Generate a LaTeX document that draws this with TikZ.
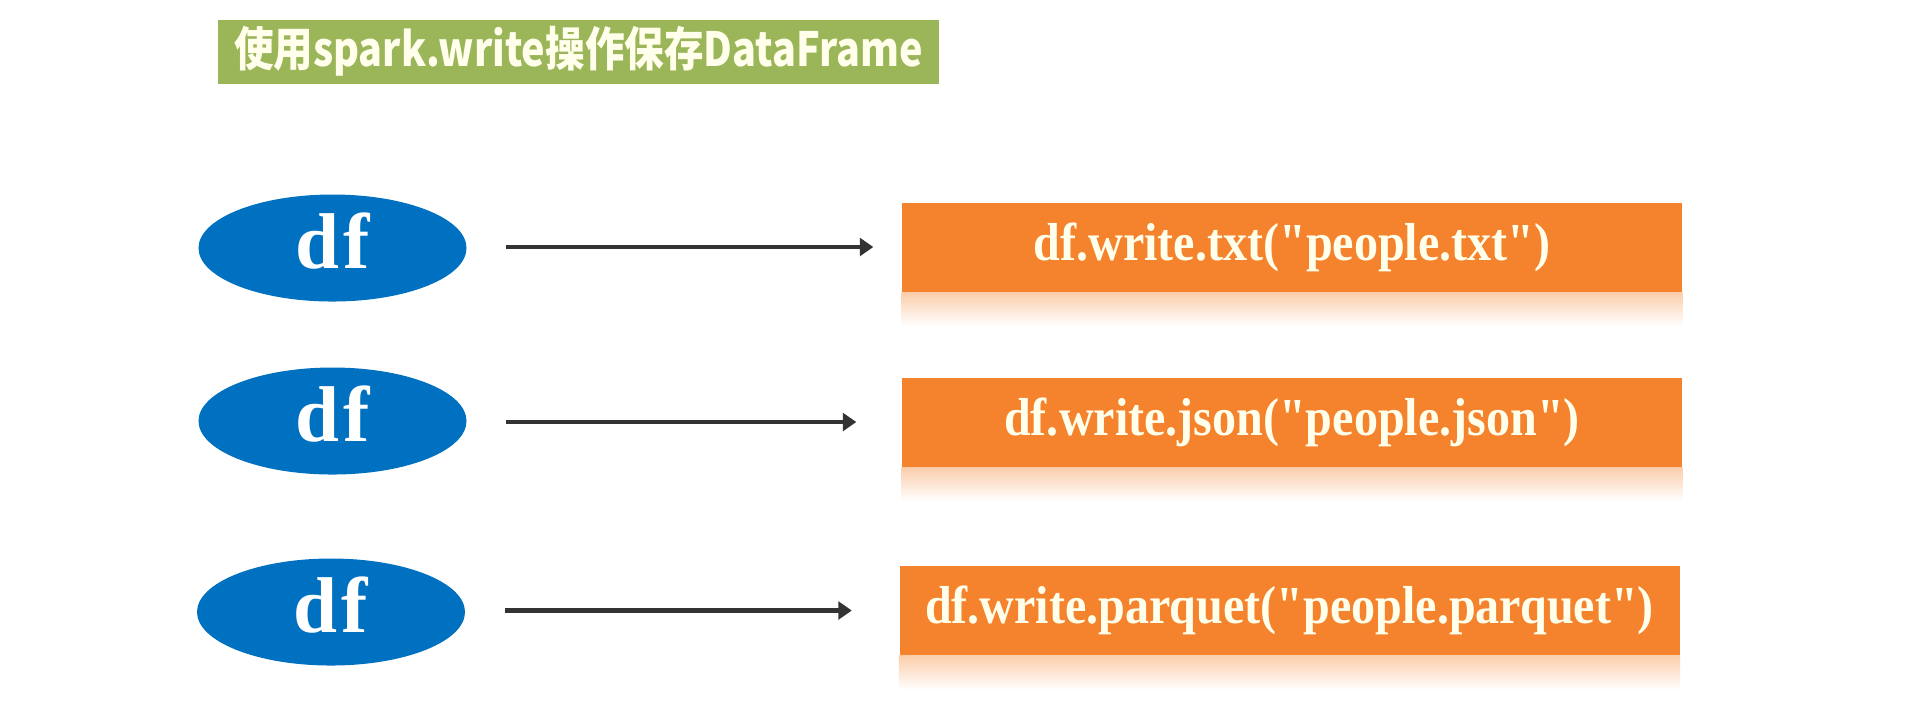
\documentclass[tikz,border=0pt]{standalone}
\usepackage{fontspec}
\newfontfamily\codefont{Liberation Serif}[FakeStretch=0.9]
\newfontfamily\dffont{Liberation Serif}
\newfontfamily\cjkfont{Noto Sans CJK SC}[FakeStretch=0.84]
\usetikzlibrary{arrows.meta,shapes.geometric}

\definecolor{titlegreen}{HTML}{9BB559}
\definecolor{titletext}{HTML}{FFFFEC}
\definecolor{dfblue}{HTML}{0070C0}
\definecolor{outorange}{HTML}{F5832D}
\definecolor{arrowgray}{HTML}{333333}

\begin{document}
\begin{tikzpicture}[
    title/.style={
        fill=titlegreen,
        text=titletext,
        minimum width=7.21cm,
        minimum height=0.64cm,
        inner sep=0pt,
        font=\cjkfont\bfseries\fontsize{13.4}{15}\selectfont,
    },
    dfnode/.style={
        ellipse,
        fill=dfblue,
        text=white,
        minimum width=2.68cm,
        minimum height=1.07cm,
        inner sep=0pt,
        font=\dffont\bfseries\fontsize{22.5}{24}\selectfont,
    },
    outbox/.style={
        fill=outorange,
        text=titletext,
        minimum width=7.8cm,
        minimum height=0.89cm,
        inner sep=0pt,
        font=\codefont\bfseries\fontsize{15.2}{16}\selectfont,
    },
    glow/.style={
        top color=outorange!40,
        bottom color=white,
    },
    flow/.style={
        -{Triangle[length=3.8pt,width=5pt]},
        line width=1.2pt,
        arrowgray,
        shorten <=0.39cm,
    },
]

% Page frame (1920 x 703, 1px = 0.01cm)
\fill[white] (0,0) rectangle (19.2,-7.03);
\useasboundingbox (0,0) rectangle (19.2,-7.03);

% Row heights
\def\yA{-2.47}
\def\yB{-4.21}
\def\yC{-6.12}

% "df" sits a little above the middle of each ellipse
\def\dflabel{\raisebox{0.15cm}{d\kern0.05em f}}

% --- Heading ---
\node[title] (title) at (5.785,-0.515) {使用spark.write操作保存DataFrame};

% --- Row 1: text ---
\node[dfnode] (df1) at (3.325,-2.48) {\dflabel};
\node[outbox] (out1) at (12.92,\yA) {df.write.txt("people.txt")};
\shade[glow] (out1.south west) rectangle ([yshift=-0.34cm]out1.south east);
\draw[flow, shorten >=0.28cm] (df1.east |- out1.west) -- (out1.west);

% --- Row 2: json ---
\node[dfnode] (df2) at (3.325,\yB) {\dflabel};
\node[outbox] (out2) at (12.92,-4.22) {df.write.json("people.json")};
\shade[glow] (out2.south west) rectangle ([yshift=-0.34cm]out2.south east);
\draw[flow, shorten >=0.45cm] (df2.east |- out2.west) -- (out2.west);

% --- Row 3: parquet ---
\node[dfnode] (df3) at (3.31,\yC) {\dflabel};
\node[outbox] (out3) at (12.895,-6.105) {df.write.parquet("people.parquet")};
\shade[glow] (out3.south west) rectangle ([yshift=-0.34cm]out3.south east);
\draw[flow, shorten >=0.47cm] (df3.east |- out3.west) -- (out3.west);

\end{tikzpicture}
\end{document}
